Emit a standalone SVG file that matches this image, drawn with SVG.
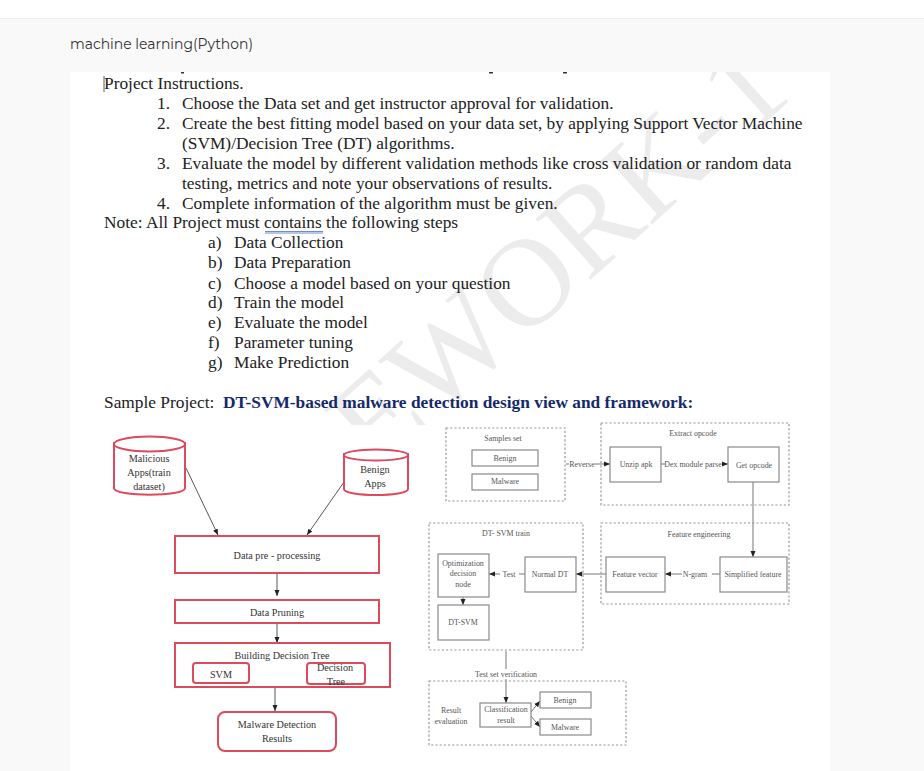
<svg xmlns="http://www.w3.org/2000/svg" width="924" height="771" viewBox="0 0 924 771">
<defs>
<style>
.doc{font-family:"Liberation Serif","Times New Roman",serif;font-size:17.35px;fill:#222}
.t{font-family:"Liberation Serif",serif;font-size:10.2px;fill:#333;text-anchor:middle}
.g{font-family:"Liberation Serif",serif;font-size:7.9px;fill:#555;text-anchor:middle}
.r{fill:#fff;stroke:#dc4a5c;stroke-width:2}
.b{fill:#fff;stroke:#8a8a8a;stroke-width:1.2}
.d{fill:none;stroke:#999;stroke-width:1.2;stroke-dasharray:2.2 2}
.c{fill:none;stroke:#444;stroke-width:.9;marker-end:url(#a)}
.c2{fill:none;stroke:#777;stroke-width:1;marker-end:url(#a2)}
</style>
<marker id="a" markerUnits="userSpaceOnUse" markerWidth="7" markerHeight="6" refX="6" refY="3" orient="auto"><path d="M0 0.500L6 3L0 5.500Z" fill="#222"/></marker>
<marker id="a2" markerUnits="userSpaceOnUse" markerWidth="7" markerHeight="6" refX="6" refY="3" orient="auto"><path d="M0 0.500L6 3L0 5.500Z" fill="#222"/></marker>
<clipPath id="wm"><rect x="70" y="72" width="760" height="353"/></clipPath>
</defs>
<rect width="924" height="771" fill="#fff"/>
<rect y="18" width="924" height="753" fill="#f9f9f9"/>
<rect y="18" width="924" height="1" fill="#eee"/>
<rect x="70" y="72" width="760" height="699" fill="#fff"/>
<text x="70" y="49" font-family="Montserrat,'Open Sans',sans-serif" font-size="15" fill="#333" textLength="183" lengthAdjust="spacingAndGlyphs">machine learning(Python)</text>
<g clip-path="url(#wm)"><text transform="translate(376 473) rotate(-42)" font-family="Liberation Serif,serif" font-size="125" fill="#ececec">EWORK-1</text></g>
<path d="M181 72h3v1.500h-3zM489 72h4v1.500h-4zM563 72h4v1.500h-4z" fill="#333"/>
<g id="instructions" class="doc">
<text x="104" y="89">Project Instructions.</text>
<text x="157" y="109">1.</text><text x="182" y="109">Choose the Data set and get instructor approval for validation.</text>
<text x="157" y="129">2.</text><text x="182" y="129">Create the best fitting model based on your data set, by applying Support Vector Machine</text>
<text x="182" y="149">(SVM)/Decision Tree (DT) algorithms.</text>
<text x="157" y="169">3.</text><text x="182" y="169">Evaluate the model by different validation methods like cross validation or random data</text>
<text x="182" y="189">testing, metrics and note your observations of results.</text>
<text x="157" y="209">4.</text><text x="182" y="209">Complete information of the algorithm must be given.</text>
<text x="104" y="228">Note: All Project must contains the following steps</text>
<text x="208" y="248">a)</text><text x="234" y="248">Data Collection</text>
<text x="208" y="268">b)</text><text x="234" y="268">Data Preparation</text>
<text x="208" y="289">c)</text><text x="234" y="289">Choose a model based on your question</text>
<text x="208" y="308">d)</text><text x="234" y="308">Train the model</text>
<text x="208" y="328">e)</text><text x="234" y="328">Evaluate the model</text>
<text x="208" y="348">f)</text><text x="234" y="348">Parameter tuning</text>
<text x="208" y="368">g)</text><text x="234" y="368">Make Prediction</text>
<text x="104" y="408">Sample Project:</text>
<text x="223" y="408" font-weight="bold" fill="#14296b">DT-SVM-based malware detection design view and framework:</text>
</g>
<path d="M265 231.500H323M265 233H323" stroke="#4a70c8" stroke-width=".8" fill="none"/>
<path d="M104 76V92" stroke="#333" stroke-width=".8"/>
<g id="connectors">
<path class="c" d="M186 468L218 535"/>
<path class="c" d="M344 482L307 535"/>
<path class="c" d="M277 573V596"/>
<path class="c" d="M277 623V643"/>
<path class="c" d="M275 687V711"/>
<path class="c2" d="M566 464H610"/>
<path class="c2" d="M661 464H728"/>
<path class="c2" d="M753 482V557"/>
<path class="c2" d="M720 574H665"/>
<path class="c2" d="M606 574H576"/>
<path class="c2" d="M525 574H489"/>
<path class="c2" d="M463 597V605"/>
<path class="c2" d="M506 651V703"/>
<path class="c2" d="M531 712L540 701"/>
<path class="c2" d="M531 716L540 727"/>
</g>
<g id="malicious"><path class="r" d="M114 443V488C114 497 185 497 185 488V443Z"/><ellipse class="r" cx="149.500" cy="444" rx="35.500" ry="7.500"/><text class="t" x="149" y="462">Malicious</text><text class="t" x="149" y="476">Apps(train</text><text class="t" x="149" y="490">dataset)</text></g>
<g id="benign"><path class="r" d="M344 454V489C344 497 408 497 408 489V454Z"/><ellipse class="r" cx="376" cy="455" rx="32" ry="5.500"/><text class="t" x="375" y="473">Benign</text><text class="t" x="375" y="487">Apps</text></g>
<g id="preprocess"><rect class="r" x="175" y="536" width="204" height="37"/><text class="t" x="277" y="559">Data pre - processing</text></g>
<g id="pruning"><rect class="r" x="175" y="600" width="204" height="23"/><text class="t" x="277" y="616">Data Pruning</text></g>
<g id="building"><rect class="r" x="175" y="643" width="215" height="44"/><text class="t" x="282" y="659">Building Decision Tree</text>
<rect class="r" x="193" y="663" width="56" height="20" rx="3"/><text class="t" x="221" y="678">SVM</text>
<rect class="r" x="307" y="663" width="58" height="21" rx="3"/><text class="t" x="335" y="671">Decision</text><text class="t" x="336" y="685">Tree</text></g>
<g id="results"><rect class="r" x="218" y="712" width="118" height="39" rx="7"/><text class="t" x="277" y="728">Malware Detection</text><text class="t" x="277" y="742">Results</text></g>
<g id="samples"><rect class="d" x="446" y="428" width="119" height="73"/><text class="g" x="503" y="441">Samples set</text>
<rect class="b" x="472" y="450" width="66" height="16"/><text class="g" x="505" y="461">Benign</text>
<rect class="b" x="472" y="474" width="66" height="16"/><text class="g" x="505" y="484">Malware</text></g>
<g id="extract"><rect class="d" x="601" y="423" width="188" height="82"/><text class="g" x="693" y="436">Extract opcode</text>
<rect class="b" x="610" y="447" width="51" height="35"/><text class="g" x="636" y="467">Unzip apk</text>
<rect class="b" x="728" y="447" width="51" height="35"/><text class="g" x="754" y="468">Get opcode</text></g>
<g id="edge-labels"><rect x="569" y="459" width="26" height="10" fill="#fff"/><text class="g" x="582" y="467">Reverse</text><rect x="665" y="459" width="57" height="10" fill="#fff"/><text class="g" x="693" y="467">Dex module parse</text></g>
<g id="train"><rect class="d" x="429" y="523" width="154" height="127"/><text class="g" x="506" y="536">DT- SVM train</text>
<rect class="b" x="438" y="554" width="51" height="43"/><text class="g" x="463" y="566">Optimization</text><text class="g" x="463" y="576">decision</text><text class="g" x="463" y="587">node</text>
<rect class="b" x="525" y="557" width="51" height="35"/><text class="g" x="550" y="577">Normal DT</text>
<rect class="b" x="438" y="605" width="51" height="35"/><text class="g" x="463" y="625">DT-SVM</text>
<rect x="500" y="568" width="19" height="12" fill="#fff"/><text class="g" x="509" y="577">Test</text></g>
<g id="feature"><rect class="d" x="601" y="523" width="188" height="81"/><text class="g" x="699" y="537">Feature engineering</text>
<rect class="b" x="606" y="557" width="59" height="35"/><text class="g" x="635" y="577">Feature vector</text>
<rect class="b" x="720" y="557" width="67" height="35"/><text class="g" x="753" y="577">Simplified feature</text>
<rect x="682" y="568" width="30" height="12" fill="#fff"/><text class="g" x="695" y="577">N-gram</text></g>
<g id="evaluation"><rect class="d" x="429" y="681" width="197" height="64"/>
<text class="g" x="451" y="713">Result</text><text class="g" x="451" y="724">evaluation</text>
<rect class="b" x="480" y="703" width="51" height="24"/><text class="g" x="506" y="712">Classification</text><text class="g" x="506" y="723">result</text>
<rect class="b" x="540" y="692" width="51" height="16"/><text class="g" x="565" y="703">Benign</text>
<rect class="b" x="540" y="719" width="51" height="16"/><text class="g" x="565" y="730">Malware</text>
<rect x="476" y="669" width="60" height="10" fill="#fff"/><text class="g" x="506" y="677">Test set verification</text></g>
</svg>
